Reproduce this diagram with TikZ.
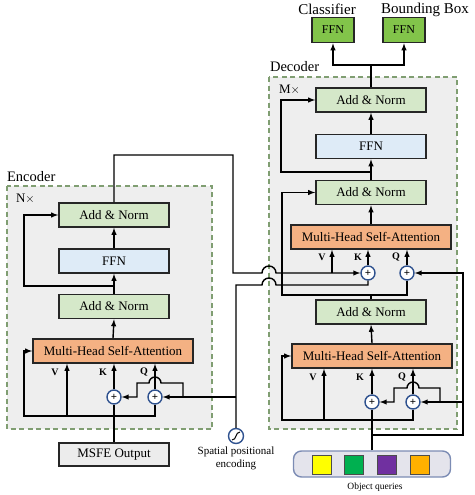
\documentclass[tikz,border=0pt]{standalone}
\usepackage{fontspec}
\setmainfont{Liberation Serif}
\usetikzlibrary{shapes,arrows}

\definecolor{normgreen}{RGB}{213,232,201}
\definecolor{ffnblue}{RGB}{222,235,247}
\definecolor{attnorange}{RGB}{244,177,131}
\definecolor{headgreen}{RGB}{130,196,74}
\definecolor{stackgray}{RGB}{238,238,238}
\definecolor{dashgreen}{RGB}{128,158,114}
\definecolor{plusblue}{RGB}{47,82,143}
\definecolor{msfegray}{RGB}{236,236,236}
\definecolor{oqfill}{RGB}{228,228,236}
\definecolor{oqborder}{RGB}{124,140,180}
\definecolor{sqyellow}{RGB}{255,255,0}
\definecolor{sqgreen}{RGB}{0,176,80}
\definecolor{sqpurple}{RGB}{112,48,160}
\definecolor{sqorange}{RGB}{255,176,0}

\begin{document}
\begin{tikzpicture}[x=1pt,y=-1pt,>=latex,line width=1.4pt,
  box/.style={draw=black!85,line width=1.6pt,minimum height=24pt,inner sep=0pt,font=\fontsize{13}{15}\selectfont},
  addnorm/.style={box,fill=normgreen,minimum width=110pt},
  ffn/.style={box,fill=ffnblue,minimum width=110pt},
  attention/.style={box,fill=attnorange,minimum width=160pt},
  headffn/.style={box,fill=headgreen,minimum width=42pt,minimum height=25pt,font=\fontsize{12}{14}\selectfont},
  plus/.style={circle,draw=plusblue,line width=1.4pt,fill=white,minimum size=14pt,inner sep=0pt,font=\bfseries\fontsize{11}{11}\selectfont},
  stack/.style={draw=dashgreen,dash pattern=on 5pt off 3.5pt,fill=stackgray,line width=1.3pt},
  qkv/.style={font=\bfseries\fontsize{10}{12}\selectfont},
  title/.style={font=\fontsize{14.5}{16}\selectfont}]
\useasboundingbox (0,0) rectangle (474,495);
% stacks
\draw [stack] (7,186) rectangle (212,429);
\draw [stack] (269,77) rectangle (457,429);
\node[title,anchor=west] (enTitle) at (3,177) {Encoder};
\node[title,anchor=west] (deTitle) at (266,67) {Decoder};
\node[font=\fontsize{13}{15}\selectfont,anchor=west] (enTimes) at (12,199) {N$\times$};
\node[font=\fontsize{13}{15}\selectfont,anchor=west] (deTimes) at (275,90) {M$\times$};
% encoder blocks
\node[addnorm] (enAN2) at (114,215) {Add \& Norm};
\node[ffn] (enFFN) at (114,261) {FFN};
\node[addnorm] (enAN1) at (114,306.5) {Add \& Norm};
\node[attention] (enMHA) at (113,351) {Multi-Head Self-Attention};
\node[plus] (enK) at (114,397) {+};
\node[plus] (enQ) at (155,397) {+};
\node[qkv] (enVl) at (55,372) {V};
\node[qkv] (enKl) at (103,372) {K};
\node[qkv] (enQl) at (144,372) {Q};
\node[box,fill=msfegray,minimum width=110pt,minimum height=23pt] (msfe) at (114,454.5) {MSFE Output};
% decoder blocks
\node[addnorm] (dAN3) at (371,100) {Add \& Norm};
\node[ffn] (dFFN) at (371,146.5) {FFN};
\node[addnorm] (dAN2) at (371,192.5) {Add \& Norm};
\node[attention] (dMHA2) at (371,237) {Multi-Head Self-Attention};
\node[plus] (dK2) at (368,273) {+};
\node[plus] (dQ2) at (407,273) {+};
\node[qkv] (dV2l) at (322,257) {V};
\node[qkv] (dK2l) at (358,257) {K};
\node[qkv] (dQ2l) at (396,257) {Q};
\node[addnorm] (dAN1) at (371,312) {Add \& Norm};
\node[attention] (dMHA1) at (372,356) {Multi-Head Self-Attention};
\node[plus] (dK1) at (372,402) {+};
\node[plus] (dQ1) at (413,402) {+};
\node[qkv] (dV1l) at (313,377) {V};
\node[qkv] (dK1l) at (360,377) {K};
\node[qkv] (dQ1l) at (402,377) {Q};
% heads
\node[headffn] (cls) at (333,30) {FFN};
\node[headffn] (bbox) at (404,30) {FFN};
\node[font=\fontsize{15}{17}\selectfont] (clsl) at (327,9) {Classifier};
\node[font=\fontsize{15}{17}\selectfont] (bboxl) at (425,10) {Bounding Box};
% object queries
\node[draw=oqborder,fill=oqfill,rounded corners=8pt,line width=1.4pt,minimum width=157pt,minimum height=26pt] (oq) at (372,464) {};
\foreach \n/\x/\c in {1/322/sqyellow,2/354/sqgreen,3/387/sqpurple,4/420/sqorange} {
    \node[draw=black!70,fill=\c,minimum size=19pt,inner sep=0pt,line width=0.9pt] (sq\n) at (\x,464.5) {};
}
\node[font=\fontsize{9.5}{11}\selectfont] (oql) at (375,487) {Object queries};
% spatial positional encoding
\node[circle,draw=plusblue,line width=1.4pt,fill=white,minimum size=15pt,inner sep=0pt] (pe) at (236,436) {};
\draw [line width=1pt] ([shift={(-4,4)}]pe.center) .. controls +(5,0) and +(-5,0) .. ([shift={(4,-4)}]pe.center);
\node[font=\fontsize{11}{13}\selectfont,align=center] (pel) at (236,458) {Spatial positional\\encoding};

% encoder connectors
\coordinate (enJ) at (114,416);
\coordinate (enV) at (67,416);
\coordinate (enR) at (114,286);
\draw (msfe.north) -- (enK.south);
\draw[->] (enQ.south) |- (24,416) |- (enMHA.west);
\draw[->] (enV) -- (enV |- enMHA.south);
\draw[->] (enK.north) -- (enK.north |- enMHA.south);
\draw[->] (enQ.north) -- (enQ.north |- enMHA.south);
\draw[->] (enMHA.north) -- (enAN1.south);
\draw[->] (enAN1.north) -- (enFFN.south);
\draw[->] (enR) -- (24,286) |- (enAN2.west);
\draw[->] (enFFN.north) -- (enAN2.south);
% positional encoding into the encoder
\draw (pe.north) -- (236,285) -- (262,285) arc[start angle=180,end angle=0,radius=7pt] -- (dK2.south |- 0,285) -- (dK2.south);
\draw[->] (236,397) -- (enQ.east);
\draw[->] (183,397) -- (183,383) -- (161,383) arc[start angle=0,end angle=180,radius=6pt] -- (137,383) -- (137,397) -- (enK.east);
% encoder output into the decoder
\coordinate (dV2) at (332,273);
\draw[->] (enAN2.north) -- (114,155) -- (233,155) -- (233,273) -- (262,273) arc[start angle=180,end angle=0,radius=7pt] -- (dK2.west);
\draw[->] (dV2) -- (dV2 |- dMHA2.south);
% decoder connectors
\coordinate (oqJ) at (372,435);
\coordinate (dR) at (463,273);
\coordinate (dV1) at (324,420);
\draw (oq.north) -- (dK1.south);
\draw[->] (oqJ) -| (dR) -- (dQ2.east);
\draw[->] (463,402) -- (dQ1.east);
\draw[->] (440,402) -- (440,388) -- (419,388) arc[start angle=0,end angle=180,radius=6pt] -- (394,388) -- (394,402) -- (dK1.east);
\draw[->] (dQ1.south) |- (282,420) |- (dMHA1.west);
\draw[->] (dV1) -- (dV1 |- dMHA1.south);
\draw[->] (dK1.north) -- (dK1.north |- dMHA1.south);
\draw[->] (dQ1.north) -- (dQ1.north |- dMHA1.south);
\draw[->] (dMHA1.north) -- (dAN1.south);
\draw (dAN1.north) -- (dAN1.north |- 0,295);
\draw[->] (dQ2.south) |- (282,295) |- (dAN2.west);
\draw[->] (dK2.north) -- (dK2.north |- dMHA2.south);
\draw[->] (dQ2.north) -- (dQ2.north |- dMHA2.south);
\draw[->] (dMHA2.north) -- (dAN2.south);
\draw[->] (dAN2.north) -- (dFFN.south);
\draw[->] (371,172) -- (281,172) |- (dAN3.west);
\draw[->] (dFFN.north) -- (dAN3.south);
% heads
\coordinate (dTop) at (371,65);
\draw (dAN3.north) -- (dTop);
\draw[->] (dTop) -| (cls.south);
\draw[->] (dTop) -| (bbox.south);
\end{tikzpicture}
\end{document}
